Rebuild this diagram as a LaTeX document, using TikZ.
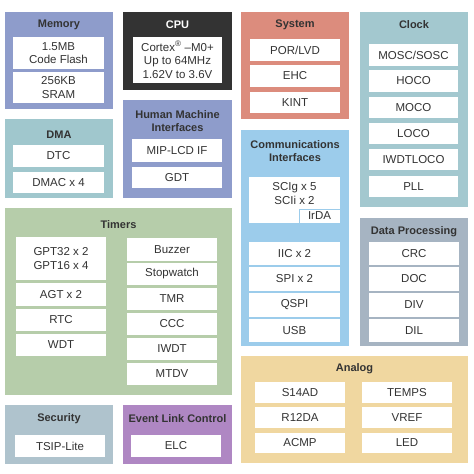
\documentclass[tikz,border=0pt]{standalone}
\usepackage{fontspec}
\setmainfont{Liberation Sans}
\definecolor{txt}{HTML}{333333}
\definecolor{cmem}{HTML}{8E9CCB}
\definecolor{ccpu}{HTML}{333333}
\definecolor{csys}{HTML}{DC8C7D}
\definecolor{cclk}{HTML}{A3C8CF}
\definecolor{cdma}{HTML}{A0C7CD}
\definecolor{chmi}{HTML}{8E9CCB}
\definecolor{ccom}{HTML}{9CCCEB}
\definecolor{cdat}{HTML}{A6B4C2}
\definecolor{ctim}{HTML}{B6CDAA}
\definecolor{cana}{HTML}{F0D7A0}
\definecolor{csec}{HTML}{AFC3CD}
\definecolor{celc}{HTML}{AF87C3}
\tikzset{
  blk/.style={inner sep=0pt, outer sep=0pt, draw=none},
  inner/.style={blk, fill=white, text=txt, align=center, font=\fontsize{11.5}{13.7}\selectfont},
  ttl/.style={inner sep=0pt, text=txt, align=center, font=\bfseries\fontsize{11}{13}\selectfont},
}
\newcommand{\mybox}[7]{\node[#6, minimum width={#4-#2}, minimum height={#5-#3}] (#1) at ({(#2+#4)/2},{(#3+#5)/2}) {#7};}
\begin{document}
\begin{tikzpicture}[x=1pt,y=-1pt]
\useasboundingbox[fill=white] (0,0) rectangle (474,474);
% Memory
\mybox{mem}{5}{12}{113}{109}{blk,fill=cmem}{}
\node[ttl] (memt) at (59,25) {Memory};
\mybox{flash}{13}{37}{104}{69}{inner}{1.5MB\\Code Flash}
\mybox{sram}{13}{72}{104}{103}{inner}{256KB\\SRAM}
% CPU
\mybox{cpu}{123}{12}{232}{90}{blk,fill=ccpu}{}
\node[ttl,text=white] (cput) at (177.5,25) {CPU};
\mybox{core}{133}{37}{222}{83}{inner}{Cortex\textsuperscript{®} –M0+\\Up to 64MHz\\1.62V to 3.6V}
% System
\mybox{sys}{241}{12}{349}{119}{blk,fill=csys}{}
\node[ttl] (syst) at (295,25) {System};
\mybox{por}{250}{39}{340}{61}{inner}{POR/LVD}
\mybox{ehc}{250}{65}{340}{87}{inner}{EHC}
\mybox{kint}{250}{92}{340}{113}{inner}{KINT}
% Clock
\mybox{clk}{360}{12}{468}{207}{blk,fill=cclk}{}
\node[ttl] (clkt) at (414,25) {Clock};
\mybox{mosc}{369}{44}{458}{66}{inner}{MOSC/SOSC}
\mybox{hoco}{369}{70}{458}{92}{inner}{HOCO}
\mybox{moco}{369}{97}{458}{118}{inner}{MOCO}
\mybox{loco}{369}{123}{458}{144}{inner}{LOCO}
\mybox{iwdtloco}{369}{149}{458}{170}{inner}{IWDTLOCO}
\mybox{pll}{369}{176}{458}{197}{inner}{PLL}
% DMA
\mybox{dma}{5}{119}{113}{198}{blk,fill=cdma}{}
\node[ttl] (dmat) at (59,135) {DMA};
\mybox{dtc}{13}{145}{104}{167}{inner}{DTC}
\mybox{dmac}{13}{172}{104}{193}{inner}{DMAC x 4}
% HMI
\mybox{hmi}{123}{100}{232}{198}{blk,fill=chmi}{}
\node[ttl] (hmit) at (177.5,121.5) {Human Machine\\Interfaces};
\mybox{mip}{132}{139}{222}{162}{inner}{MIP-LCD IF}
\mybox{gdt}{132}{167}{222}{188}{inner}{GDT}
% Communications
\mybox{com}{241}{130}{349}{346}{blk,fill=ccom}{}
\node[ttl] (comt) at (295,151.5) {Communications\\Interfaces};
\mybox{sci}{249}{177}{340}{223}{inner}{}
\node[inner,fill=none] (scit) at (294.5,193.5) {SCIg x 5\\SCIi x 2};
\mybox{irda}{299}{209}{340}{223}{inner,draw=ccom,line width=0.8pt}{IrDA}
\mybox{iic}{249}{242}{340}{265}{inner}{IIC x 2}
\mybox{spi}{249}{267}{340}{291}{inner}{SPI x 2}
\mybox{qspi}{249}{293}{340}{317}{inner}{QSPI}
\mybox{usb}{249}{319}{340}{342}{inner}{USB}
% Data processing
\mybox{dat}{360}{218}{468}{346}{blk,fill=cdat}{}
\node[ttl] (datt) at (414,232) {Data Processing};
\mybox{crc}{369}{242}{459}{265}{inner}{CRC}
\mybox{doc}{369}{267}{459}{291}{inner}{DOC}
\mybox{div}{369}{293}{459}{317}{inner}{DIV}
\mybox{dil}{369}{319}{459}{342}{inner}{DIL}
% Timers
\mybox{tim}{5}{208}{232}{395}{blk,fill=ctim}{}
\node[ttl] (timt) at (118.5,225) {Timers};
\mybox{gpt}{16}{237}{106}{280}{inner}{GPT32 x 2\\GPT16 x 4}
\mybox{agt}{16}{283}{106}{306}{inner}{AGT x 2}
\mybox{rtc}{16}{309}{106}{331}{inner}{RTC}
\mybox{wdt}{16}{334}{106}{356}{inner}{WDT}
\mybox{buz}{127}{238}{217}{261}{inner}{Buzzer}
\mybox{stw}{127}{263}{217}{285}{inner}{Stopwatch}
\mybox{tmr}{127}{288}{217}{310}{inner}{TMR}
\mybox{ccc}{127}{313}{217}{335}{inner}{CCC}
\mybox{iwdt}{127}{338}{217}{360}{inner}{IWDT}
\mybox{mtdv}{127}{363}{217}{385}{inner}{MTDV}
% Analog
\mybox{ana}{241}{356}{468}{463}{blk,fill=cana}{}
\node[ttl] (anat) at (354.5,369) {Analog};
\mybox{s14}{255}{382}{345}{403}{inner}{S14AD}
\mybox{temps}{362}{382}{452}{403}{inner}{TEMPS}
\mybox{r12}{255}{407}{345}{428}{inner}{R12DA}
\mybox{vref}{362}{407}{452}{428}{inner}{VREF}
\mybox{acmp}{255}{433}{345}{453}{inner}{ACMP}
\mybox{led}{362}{433}{452}{453}{inner}{LED}
% Security
\mybox{sec}{5}{405}{113}{464}{blk,fill=csec}{}
\node[ttl] (sect) at (59,419) {Security};
\mybox{tsip}{15}{435}{105}{457}{inner}{TSIP-Lite}
% Event Link Control
\mybox{elcb}{123}{405}{232}{464}{blk,fill=celc}{}
\node[ttl] (elct) at (177.5,419) {Event Link Control};
\mybox{elc}{131}{435}{221}{457}{inner}{ELC}
\end{tikzpicture}
\end{document}
